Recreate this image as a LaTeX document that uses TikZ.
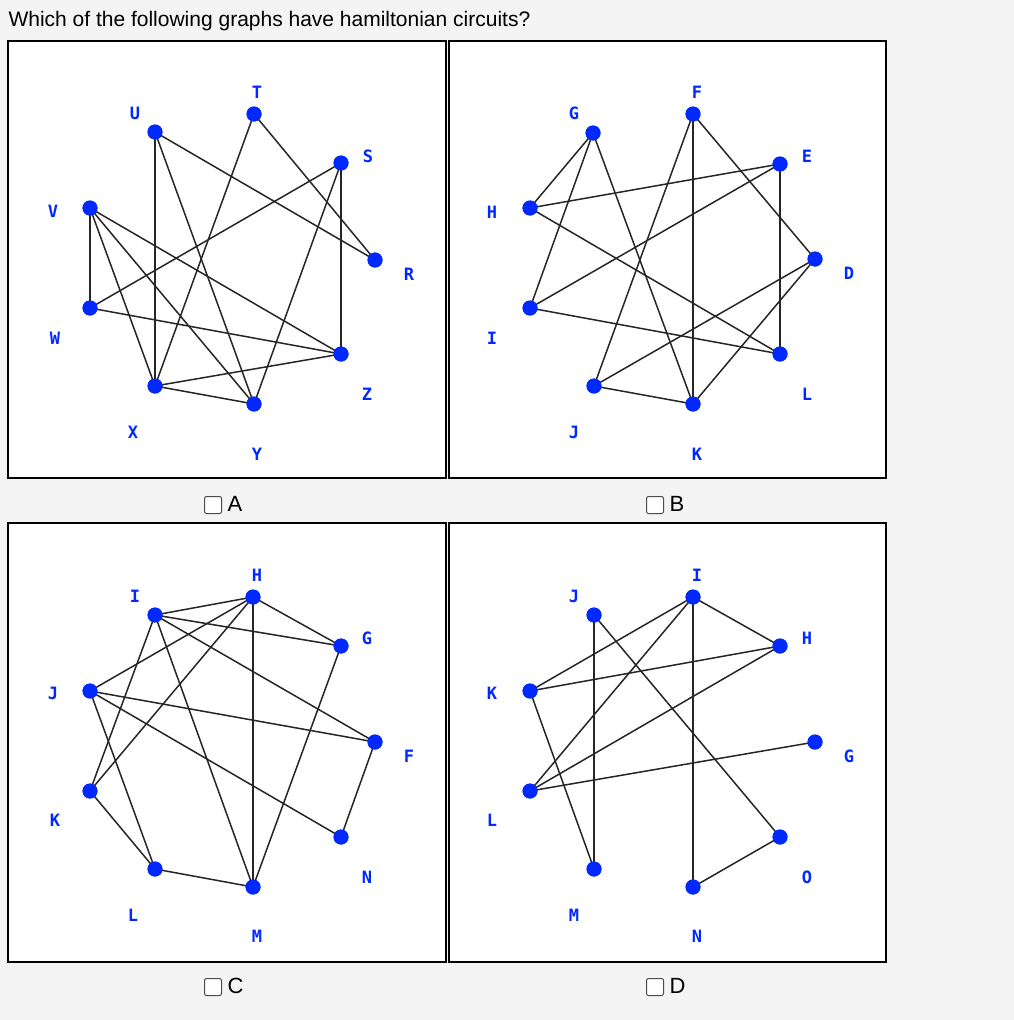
\documentclass[tikz,border=0pt]{standalone}
\usepackage{fontspec}
\setmainfont{Liberation Sans}
\newfontfamily\lblfont{DejaVu Sans Mono Bold}
\definecolor{vblue}{RGB}{0,40,255}
\definecolor{bg}{RGB}{244,244,244}
\begin{document}
\begin{tikzpicture}[x=1pt,y=-1pt,
  vtx/.style={circle,fill=vblue,inner sep=0pt,minimum size=15pt},
  lbl/.style={text=vblue,font=\lblfont\fontsize{17}{17}\selectfont},
  edge/.style={line width=1.5pt,black!85},
  panel/.style={draw=black,line width=1.8pt,fill=white},
  cbox/.style={draw=black!70,line width=1pt,rounded corners=2pt,fill=white,minimum size=17pt,inner sep=0pt},
  opt/.style={font=\fontsize{22}{22}\selectfont,anchor=west}]
\fill[bg] (0,0) rectangle (1014,1020);
\useasboundingbox (0,0) rectangle (1014,1020);
\node[anchor=west,font=\fontsize{21}{21}\selectfont] (title) at (5,21) {Which of the following graphs have hamiltonian circuits?};
\draw[panel] (8,41) rectangle (446,478);
\draw[panel] (449,41) rectangle (886,478);
\draw[panel] (8,523) rectangle (446,962);
\draw[panel] (449,523) rectangle (886,962);
% Panel A
\node[vtx] (aU) at (155,132) {}; \node[vtx] (aT) at (254,114) {};
\node[vtx] (aS) at (341,163) {}; \node[vtx] (aR) at (375,260) {};
\node[vtx] (aV) at (90,208) {}; \node[vtx] (aW) at (90,308) {};
\node[vtx] (aX) at (155,386) {}; \node[vtx] (aY) at (254,404) {};
\node[vtx] (aZ) at (341,354) {};
\node[lbl] (laU) at (135,113) {U}; \node[lbl] (laT) at (257,92) {T};
\node[lbl] (laS) at (368,156) {S}; \node[lbl] (laR) at (409,274) {R};
\node[lbl] (laV) at (53,211) {V}; \node[lbl] (laW) at (55,338) {W};
\node[lbl] (laX) at (133,432) {X}; \node[lbl] (laY) at (257,454) {Y};
\node[lbl] (laZ) at (367,394) {Z};
\foreach \a/\b in {U/X,U/R,U/Y,T/R,T/X,S/W,S/Y,S/Z,V/W,V/X,V/Y,V/Z,W/Z,X/Z,X/Y}
  \draw[edge] (a\a.center) -- (a\b.center);
% Panel B
\node[vtx] (bG) at (593,133) {}; \node[vtx] (bF) at (693,114) {};
\node[vtx] (bE) at (780,164) {}; \node[vtx] (bD) at (815,259) {};
\node[vtx] (bH) at (530,208) {}; \node[vtx] (bI) at (530,308) {};
\node[vtx] (bJ) at (594,386) {}; \node[vtx] (bK) at (693,404) {};
\node[vtx] (bL) at (780,354) {};
\node[lbl] (lbG) at (574,113) {G}; \node[lbl] (lbF) at (697,92) {F};
\node[lbl] (lbE) at (807,156) {E}; \node[lbl] (lbD) at (849,273) {D};
\node[lbl] (lbH) at (492,212) {H}; \node[lbl] (lbI) at (492,338) {I};
\node[lbl] (lbJ) at (574,432) {J}; \node[lbl] (lbK) at (697,454) {K};
\node[lbl] (lbL) at (807,394) {L};
\foreach \a/\b in {G/H,G/I,G/K,F/K,F/J,F/D,E/H,E/I,E/L,H/L,I/L,J/D,J/K,K/D}
  \draw[edge] (b\a.center) -- (b\b.center);
% Panel C
\node[vtx] (cH) at (253,597) {}; \node[vtx] (cI) at (155,615) {};
\node[vtx] (cG) at (341,646) {}; \node[vtx] (cF) at (375,742) {};
\node[vtx] (cJ) at (90,691) {}; \node[vtx] (cK) at (90,791) {};
\node[vtx] (cL) at (155,869) {}; \node[vtx] (cM) at (253,887) {};
\node[vtx] (cN) at (341,837) {};
\node[lbl] (lcH) at (257,575) {H}; \node[lbl] (lcI) at (135,596) {I};
\node[lbl] (lcG) at (367,638) {G}; \node[lbl] (lcF) at (409,756) {F};
\node[lbl] (lcJ) at (53,693) {J}; \node[lbl] (lcK) at (55,820) {K};
\node[lbl] (lcL) at (133,915) {L}; \node[lbl] (lcM) at (257,936) {M};
\node[lbl] (lcN) at (367,877) {N};
\foreach \a/\b in {I/H,I/G,I/F,I/K,I/M,H/G,H/J,H/K,H/M,G/M,J/F,J/N,J/L,K/L,L/M,F/N}
  \draw[edge] (c\a.center) -- (c\b.center);
% Panel D
\node[vtx] (dI) at (693,597) {}; \node[vtx] (dJ) at (594,615) {};
\node[vtx] (dH) at (780,646) {}; \node[vtx] (dG) at (815,742) {};
\node[vtx] (dK) at (530,691) {}; \node[vtx] (dL) at (530,791) {};
\node[vtx] (dM) at (594,869) {}; \node[vtx] (dN) at (693,887) {};
\node[vtx] (dO) at (780,837) {};
\node[lbl] (ldI) at (697,575) {I}; \node[lbl] (ldJ) at (574,596) {J};
\node[lbl] (ldH) at (807,638) {H}; \node[lbl] (ldG) at (849,756) {G};
\node[lbl] (ldK) at (492,693) {K}; \node[lbl] (ldL) at (492,820) {L};
\node[lbl] (ldM) at (574,915) {M}; \node[lbl] (ldN) at (697,936) {N};
\node[lbl] (ldO) at (807,877) {O};
\foreach \a/\b in {I/K,I/L,I/H,I/N,J/M,J/O,K/H,K/M,L/H,L/G,N/O}
  \draw[edge] (d\a.center) -- (d\b.center);
% redraw vertices on top
\foreach \n in {aU,aT,aS,aR,aV,aW,aX,aY,aZ,bG,bF,bE,bD,bH,bI,bJ,bK,bL,cH,cI,cG,cF,cJ,cK,cL,cM,cN,dI,dJ,dH,dG,dK,dL,dM,dN,dO}
  \fill[vblue] (\n.center) circle (7.5pt);
% options
\node[cbox] (boxA) at (213,505) {}; \node[opt] (optA) at (224,504) {A};
\node[cbox] (boxB) at (655,505) {}; \node[opt] (optB) at (666,504) {B};
\node[cbox] (boxC) at (213,987) {}; \node[opt] (optC) at (224,986) {C};
\node[cbox] (boxD) at (655,987) {}; \node[opt] (optD) at (666,986) {D};
\end{tikzpicture}
\end{document}
